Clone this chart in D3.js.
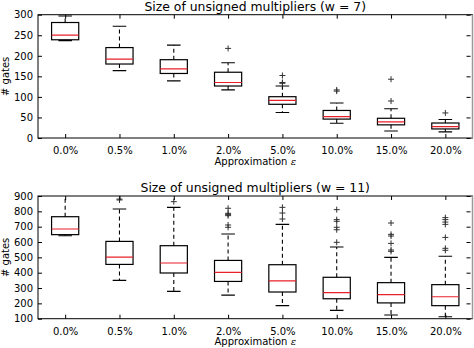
<!DOCTYPE html>
<html><head><meta charset="utf-8">
<script src="https://cdn.jsdelivr.net/npm/d3@7"></script>
<style>body{margin:0;background:#fff}svg{display:block}text{font-family:"DejaVu Sans",sans-serif;fill:#000}</style>
</head><body><svg id="c" width="474" height="348"></svg>
<script>
const categories = ["0.0%","0.5%","1.0%","2.0%","5.0%","10.0%","15.0%","20.0%"];

// w = 7
const w7Low    = [237, 164, 139, 117, 62, 36, 17, 15];
const w7Q1     = [239, 180, 157, 126.5, 82, 46, 32, 22];
const w7Median = [250.5, 192, 168, 135, 91.6, 52, 39, 27.6];
const w7Q3     = [281, 220, 190.5, 160, 100.5, 67, 48, 36.5];
const w7High   = [297, 272, 226, 183, 126.5, 85, 71, 45];
const w7Outliers = [[], [], [], [218], [152, 135, 133], [117, 114], [143, 90], [61]];
const w7Ticks  = [0, 50, 100, 150, 200, 250, 300];

// w = 11
const w11Low    = [641, 350, 278, 254, 185, 154, 124, 113];
const w11Q1     = [648, 454, 398, 343, 274, 230, 203, 185];
const w11Median = [685, 502, 463, 402, 346, 270, 257, 243];
const w11Q3     = [765, 604, 576, 480, 452, 370, 335, 322];
const w11High   = [910, 815, 826, 652, 715, 567, 500, 507];
const w11Outliers = [[], [880, 874], [863], [820, 787, 780, 772, 711, 696], [826, 789, 750],
  [811, 746, 735, 696, 680, 598], [724, 650, 639, 591, 548, 539], [759, 746, 730, 715, 630, 559, 546]];
const w11Ticks = [100, 200, 300, 400, 500, 600, 700, 800, 900];

const svg = d3.select("#c");
const left = 38, right = 472.5;

function panel(cfg) {
  const {top, bottom, domain, ticks, low, q1, med, q3, high, outliers, title, id} = cfg;
  const g = svg.append("g");
  const x = d3.scaleLinear().domain([0.5, categories.length + 0.5]).range([left, right]);
  const y = d3.scaleLinear().domain(domain).range([bottom, top]);
  g.append("clipPath").attr("id", id).append("rect")
    .attr("x", left).attr("y", top).attr("width", right - left).attr("height", bottom - top);
  const plot = g.append("g").attr("clip-path", `url(#${id})`);
  const hw = 0.25;
  categories.forEach((c, i) => {
    const cx = x(i + 1);
    const bg = plot.append("g");
    // whiskers
    [[q3[i], high[i]], [q1[i], low[i]]].forEach(([a, b]) => {
      bg.append("line").attr("x1", cx).attr("x2", cx).attr("y1", y(a)).attr("y2", y(b))
        .attr("stroke", "#000").attr("stroke-width", 1.1).attr("stroke-dasharray", "4,3");
      bg.append("line").attr("x1", x(i + 1 - hw / 2)).attr("x2", x(i + 1 + hw / 2))
        .attr("y1", y(b)).attr("y2", y(b)).attr("stroke", "#000").attr("stroke-width", 1.1);
    });
    bg.append("rect").attr("x", x(i + 1 - hw)).attr("width", x(i + 1 + hw) - x(i + 1 - hw))
      .attr("y", y(q3[i])).attr("height", y(q1[i]) - y(q3[i]))
      .attr("fill", "none").attr("stroke", "#000").attr("stroke-width", 1.2);
    bg.append("line").attr("x1", x(i + 1 - hw)).attr("x2", x(i + 1 + hw))
      .attr("y1", y(med[i])).attr("y2", y(med[i])).attr("stroke", "#e8202a").attr("stroke-width", 1.2);
    outliers[i].forEach(v => {
      const py = y(v);
      bg.append("path").attr("d", `M${cx - 3},${py}H${cx + 3}M${cx},${py - 3}V${py + 3}`)
        .attr("stroke", "#333").attr("stroke-width", 1).attr("fill", "none");
    });
  });
  // frame
  g.append("rect").attr("x", left).attr("y", top).attr("width", right - left).attr("height", bottom - top)
    .attr("fill", "none").attr("stroke", "#000").attr("stroke-width", 1);
  g.append("line").attr("x1", right).attr("x2", right).attr("y1", top).attr("y2", bottom)
    .attr("stroke", "#999").attr("stroke-width", 1.5);
  // axes
  const xb = d3.axisBottom(x).tickValues(d3.range(1, categories.length + 1))
    .tickFormat(d => categories[d - 1]).tickSizeInner(-4).tickSizeOuter(0).tickPadding(9);
  const ax = g.append("g").attr("transform", `translate(0,${bottom})`).call(xb);
  ax.select(".domain").remove();
  ax.selectAll("text").attr("font-size", 10).attr("font-family", "DejaVu Sans");
  const xt = g.append("g").attr("transform", `translate(0,${top})`)
    .call(d3.axisTop(x).tickValues(d3.range(1, categories.length + 1)).tickFormat("").tickSizeInner(-4).tickSizeOuter(0));
  xt.select(".domain").remove();
  const yl = g.append("g").attr("transform", `translate(${left},0)`)
    .call(d3.axisLeft(y).tickValues(ticks).tickSizeInner(-4).tickSizeOuter(0).tickPadding(5));
  yl.select(".domain").remove();
  yl.selectAll("text").attr("font-size", 10).attr("font-family", "DejaVu Sans");
  const yr = g.append("g").attr("transform", `translate(${right - 2},0)`)
    .call(d3.axisRight(y).tickValues(ticks).tickFormat("").tickSizeInner(-4).tickSizeOuter(0));
  yr.select(".domain").remove();
  // labels
  g.append("text").attr("x", (left + right) / 2).attr("y", top - 3.8).attr("text-anchor", "middle")
    .attr("font-size", 12.4).text(title);
  const xlab = g.append("text").attr("x", (left + right) / 2).attr("y", bottom + 26.5)
    .attr("text-anchor", "middle").attr("font-size", 10);
  xlab.append("tspan").text("Approximation ");
  xlab.append("tspan").attr("font-style", "italic").attr("font-family", "DejaVu Serif").text("ε");
  g.append("text").attr("transform", `translate(8.5,${(top + bottom) / 2}) rotate(-90)`)
    .attr("text-anchor", "middle").attr("font-size", 10).text("# gates");
}

panel({id: "c1", top: 14.7, bottom: 138, domain: [0, 300], ticks: w7Ticks,
  low: w7Low, q1: w7Q1, med: w7Median, q3: w7Q3, high: w7High, outliers: w7Outliers,
  title: "Size of unsigned multipliers (w = 7)"});
panel({id: "c2", top: 196, bottom: 318.7, domain: [100, 900], ticks: w11Ticks,
  low: w11Low, q1: w11Q1, med: w11Median, q3: w11Q3, high: w11High, outliers: w11Outliers,
  title: "Size of unsigned multipliers (w = 11)"});
</script></body></html>
